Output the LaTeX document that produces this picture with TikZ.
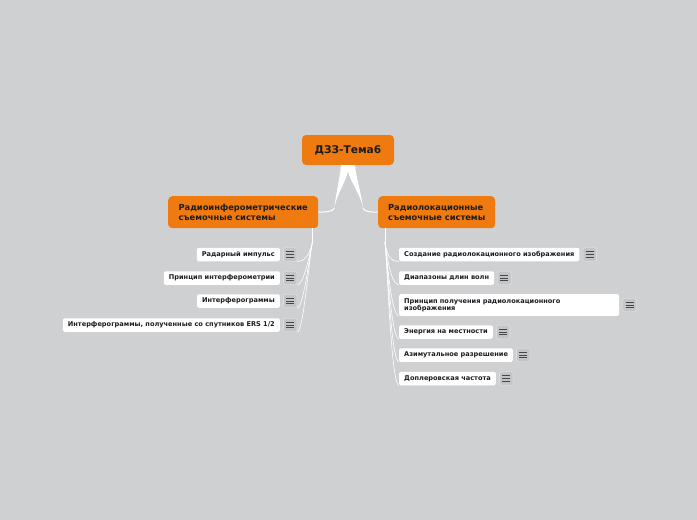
\documentclass[tikz,border=0pt]{standalone}
\usepackage{fontspec}
\setmainfont{DejaVu Sans}
\usetikzlibrary{positioning}
\definecolor{canvas}{RGB}{207,208,210}
\definecolor{topic}{RGB}{238,122,16}
\definecolor{ink}{RGB}{28,28,30}
\definecolor{iconfill}{RGB}{196,197,199}
\definecolor{iconedge}{RGB}{219,220,222}
\definecolor{iconbar}{RGB}{70,70,74}
\tikzset{
    line cap=round,
    line join=round,
    root/.style={
        rectangle,
        rounded corners=4pt,
        fill=topic,
        text=ink,
        minimum width=92pt,
        minimum height=30pt,
        font=\bfseries\fontsize{10.6}{12}\selectfont
    },
    branch/.style={
        rectangle,
        rounded corners=4pt,
        fill=topic,
        text=ink,
        align=left,
        inner xsep=9pt,
        minimum height=32pt,
        font=\bfseries\fontsize{8.3}{10.2}\selectfont
    },
    leaf/.style={
        rectangle,
        rounded corners=1.5pt,
        fill=white,
        text=ink,
        align=left,
        inner xsep=5pt,
        inner ysep=2pt,
        minimum height=13.5pt,
        font=\bfseries\fontsize{6.6}{7.4}\selectfont
    },
    menuicon/.style={
        rectangle,
        rounded corners=1.5pt,
        fill=iconfill,
        draw=iconedge,
        line width=0.8pt,
        minimum width=13.5pt,
        minimum height=13.5pt,
        inner sep=0pt,
        path picture={
            \foreach \k in {-1,0,1}
                \draw[iconbar, line width=0.9pt]
                    ([xshift=-4pt,yshift=\k*2.8pt]path picture bounding box.center) -- ++(8pt,0);
        }
    },
    wire/.style={
        draw=white,
        line width=0.6pt
    }
}

\begin{document}
\begin{tikzpicture}[x=1pt, y=-1pt]

% canvas
\fill[canvas] (0,0) rectangle (697,520);
\useasboundingbox (0,0) rectangle (697,520);

% central topic and main branches
\node[root] (root) at (348,150) {ДЗЗ-Тема6};
\node[branch, anchor=north west, minimum width=150pt] (lbr) at (168,196) {Радиоинферометрические\\съемочные системы};
\node[branch, anchor=north west, minimum width=117pt] (rbr) at (378,196) {Радиолокационные\\съемочные системы};

% tapered link from the root
\coordinate (pl) at ([xshift=16pt,yshift=4pt]lbr.east);
\coordinate (pr) at ([xshift=-15pt,yshift=4pt]rbr.west);
\fill[white] ([xshift=-7pt]root.south)
    .. controls +(-1,12) and +(1,-12) .. (pl)
    .. controls +(1.5,-12) and +(-2,10) .. ([yshift=-6pt]root.south)
    .. controls +(2,10) and +(-1.5,-12) .. (pr)
    .. controls +(-1,-12) and +(1,12) .. ([xshift=7pt]root.south)
    -- cycle;
\draw[wire, line width=1pt] (pl) .. controls +(-1,3.5) and +(6,0) .. (lbr.east);
\draw[wire, line width=1pt] (pr) .. controls +(1,3.5) and +(-6,0) .. (rbr.west);

% left leaves
\node[leaf, anchor=east] (l1) at (280,254.5) {Радарный импульс};
\node[menuicon, right=3pt of l1] (l1m) {};
\node[leaf, anchor=east] (l2) at (280,278) {Принцип интерферометрии};
\node[menuicon, right=3pt of l2] (l2m) {};
\node[leaf, anchor=east] (l3) at (280,301) {Интерферограммы};
\node[menuicon, right=3pt of l3] (l3m) {};
\node[leaf, anchor=east] (l4) at (280,325) {Интерферограммы, полученные со спутников ERS 1/2};
\node[menuicon, right=3pt of l4] (l4m) {};

% right leaves
\node[leaf, anchor=west] (r1) at (399,254.5) {Создание радиолокационного изображения};
\node[menuicon, right=3pt of r1] (r1m) {};
\node[leaf, anchor=west] (r2) at (399,278) {Диапазоны длин волн};
\node[menuicon, right=3pt of r2] (r2m) {};
\node[leaf, anchor=west, text width=210pt, inner ysep=4pt] (r3) at (399,305) {Принцип получения радиолокационного\\изображения};
\node[menuicon, right=3pt of r3] (r3m) {};
\node[leaf, anchor=west] (r4) at (399,332) {Энергия на местности};
\node[menuicon, right=3pt of r4] (r4m) {};
\node[leaf, anchor=west] (r5) at (399,355) {Азимутальное разрешение};
\node[menuicon, right=3pt of r5] (r5m) {};
\node[leaf, anchor=west] (r6) at (399,378.5) {Доплеровская частота};
\node[menuicon, right=3pt of r6] (r6m) {};

% hubs under the branches
\draw[wire] ([xshift=-6pt]lbr.south east) -- ++(0,14) coordinate (lhub);
\draw[wire] ([xshift=7pt]rbr.south west) -- ++(0,14) coordinate (rhub);

% left connectors
\foreach \m in {l1m,l2m,l3m,l4m}
    \draw[wire] (lhub) .. controls +(-3,14) and +(6,0) .. (\m.south east);

% right connectors
\foreach \n in {r1,r2,r3,r4,r5,r6}
    \draw[wire] (rhub) .. controls +(2,14) and +(-8,0) .. (\n.south west);

\end{tikzpicture}
\end{document}
